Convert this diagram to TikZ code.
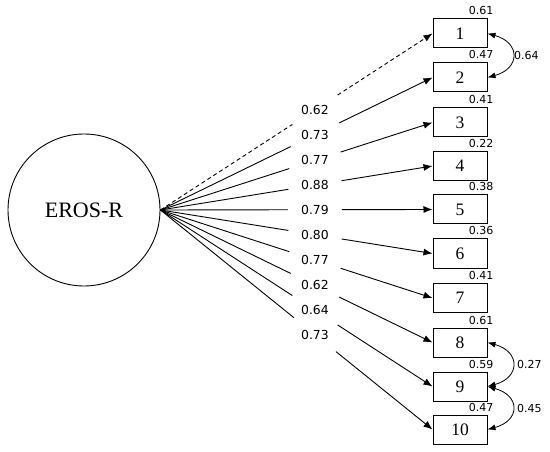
\documentclass[tikz,border=0pt]{standalone}
\usepackage{fontspec}
\setmainfont{Liberation Serif}
\newfontfamily\lblfont{DejaVu Sans}
\usetikzlibrary{calc,arrows.meta}
\begin{document}
\begin{tikzpicture}[x=1pt,y=-1pt,
  latent/.style={draw,circle,line width=0.9pt,minimum size=152pt,inner sep=0pt,font=\fontsize{22}{24}\selectfont},
  obs/.style={draw,rectangle,line width=1pt,minimum width=54pt,minimum height=29pt,inner sep=0pt,font=\fontsize{17.5}{19}\selectfont},
  errlbl/.style={inner sep=0pt,anchor=base east,font=\lblfont\fontsize{11}{13}\selectfont},
  ldlbl/.style={inner sep=0pt,font=\lblfont\fontsize{12.4}{14}\selectfont},
  covlbl/.style={inner sep=0pt,anchor=west,font=\lblfont\fontsize{11}{13}\selectfont},
  path/.style={line width=0.9pt},
  dsh/.style={dash pattern=on 4pt off 3pt},
  sld/.style={solid},
  tip/.style={-{Latex[length=9pt,width=7pt]}},
  cov/.style={line width=0.8pt,{Latex[length=8pt,width=6pt]}-{Latex[length=8pt,width=6pt]}}]
\useasboundingbox (0,0) rectangle (550,452);
\node[latent] (eta) at (84,210) {EROS-R};
\foreach \i/\y/\ld/\er/\sty in {1/33.5/0.62/0.61/dsh,2/77.5/0.73/0.47/sld,3/122.5/0.77/0.41/sld,4/166/0.88/0.22/sld,5/209.5/0.79/0.38/sld,6/253.5/0.80/0.36/sld,7/298/0.77/0.41/sld,8/342.5/0.62/0.61/sld,9/386.5/0.64/0.59/sld,10/429.5/0.73/0.47/sld}{
  \node[obs] (b\i) at (460,\y) {\i};
  \node[errlbl] (e\i) at ($(b\i.north east)+(6,-3.5)$) {\er};
  \coordinate (m\i) at ($(eta.east)!0.568!(b\i.west)$);
  \node[ldlbl] (l\i) at (m\i) {\ld};
  \draw[path,\sty] (eta.east) -- ($(m\i)!27pt!(eta.east)$);
  \draw[path,tip,\sty] ($(m\i)!27pt!(b\i.west)$) -- (b\i.west);
}
\draw[cov] (b1.east) .. controls +(33,9) and +(33,-9) .. (b2.east);
\draw[cov] (b8.east) .. controls +(33,9) and +(33,-9) .. (b9.east);
\draw[cov] (b9.east) .. controls +(33,9) and +(33,-9) .. (b10.east);
\node[covlbl] (c12) at (514,55) {0.64};
\node[covlbl] (c89) at (517,364) {0.27};
\node[covlbl] (c910) at (517,408) {0.45};
\end{tikzpicture}
\end{document}
